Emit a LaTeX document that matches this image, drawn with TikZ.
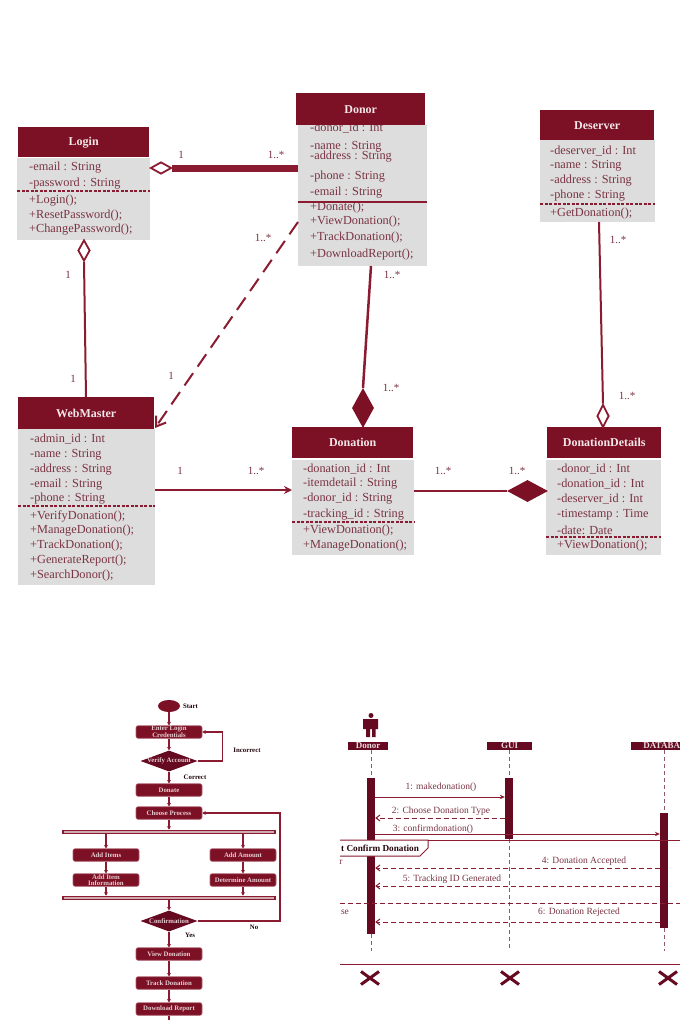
\documentclass[tikz,border=0pt]{standalone}
\usepackage{fontspec}
\setmainfont{Liberation Serif}
\usetikzlibrary{arrows.meta,shapes.geometric,shapes.misc}
\definecolor{wine}{HTML}{7C1024}
\definecolor{darkwine}{HTML}{650A20}
\definecolor{linewine}{HTML}{8A1B30}
\definecolor{bodygray}{HTML}{DDDDDD}
\definecolor{membertxt}{HTML}{7A3343}

\tikzset{
  classhead/.style={fill=wine, text=white!90!wine, anchor=north west, inner sep=0pt, font=\bfseries\fontsize{12}{12}\selectfont},
  classbody/.style={fill=bodygray, anchor=north west, inner sep=0pt},
  member/.style={anchor=west, inner sep=0pt, yshift=-1pt, text=membertxt, font=\fontsize{12.3}{12.3}\selectfont},
  mult/.style={inner sep=0pt, text=membertxt, font=\fontsize{11}{11}\selectfont},
  conn/.style={draw=linewine, line width=2pt},
  sepline/.style={draw=linewine, line width=1.5pt, dashed, dash pattern=on 3pt off 1.5pt},
  opendiam/.style={diamond, aspect=1, draw=linewine, fill=white, line width=1.8pt, inner sep=0pt},
  soliddiam/.style={diamond, fill=wine, inner sep=0pt},
  flowbox/.style={rectangle, rounded corners=2pt, fill=wine, draw=linewine!70, line width=0.6pt, text=white!80!wine, minimum width=66, minimum height=12.5, inner sep=0pt, align=center, font=\bfseries\fontsize{6.8}{6}\selectfont},
  flowdiam/.style={diamond, fill=darkwine, text=white!80!wine, inner sep=0pt, minimum width=57, minimum height=21, aspect=2.7, font=\bfseries\fontsize{6.8}{6}\selectfont},
  flowbar/.style={rectangle, fill=wine!35, draw=linewine, line width=1.2pt, minimum width=212, minimum height=3.5, inner sep=0pt},
  flowline/.style={draw=linewine, line width=1.3pt, -{Stealth[length=3.5pt,width=4pt]}},
  flowtxt/.style={inner sep=0pt, text=black!75!wine, font=\bfseries\fontsize{6.8}{6.8}\selectfont},
  lifehead/.style={fill=darkwine, text=white!85!wine, inner sep=0pt, minimum height=8, font=\bfseries\fontsize{9}{9}\selectfont},
  lifebar/.style={fill=darkwine, anchor=north, inner sep=0pt, minimum width=8},
  lifeline/.style={draw=black!30!linewine!70, line width=1pt, dashed, dash pattern=on 4pt off 3pt},
  msgtxt/.style={inner sep=0pt, yshift=-0.5pt, text=membertxt, font=\fontsize{9.5}{9.5}\selectfont},
  msg/.style={draw=linewine, line width=1pt, -{Stealth[length=5pt,width=4.5pt]}},
  reply/.style={draw=linewine, line width=1pt, dash pattern=on 5pt off 3pt, -{Straight Barb[length=4pt,width=6pt]}},
}

\begin{document}
\begin{tikzpicture}[x=1pt, y=-1pt]
  \useasboundingbox (0,0) rectangle (680,1020);

  % Login
  \node[classhead, minimum width=131, minimum height=30] (loginhead) at (18,127) {Login};
  \node[classbody, minimum width=133, minimum height=82] (loginbody) at (17,158) {};
  \foreach \txt/\ypos in {-email : String/167, -password : String/183, +Login();/200, +ResetPassword();/215, +ChangePassword();/229}
    \node[member] (login\ypos) at (29,\ypos) {\txt};
  \draw[sepline] (loginbody.west |- 0,191) -- (loginbody.east |- 0,191);

  % Donor
  \node[classbody, minimum width=129, minimum height=141] (donorbody) at (298,125) {};
  \foreach \txt/\ypos in {-donor\_id : Int/127, -name : String/146, -address : String/156, -phone : String/176, -email : String/192, +Donate();/207, +ViewDonation();/221, +TrackDonation();/237, +DownloadReport();/254}
    \node[member] (donor\ypos) at (310,\ypos) {\txt};
  \node[classhead, minimum width=129, minimum height=32] (donorhead) at (296,93) {Donor};
  \draw[linewine, line width=1.5pt] (donorbody.west |- 0,202) -- (donorbody.east |- 0,202);

  % Deserver
  \node[classhead, minimum width=114, minimum height=30] (deserverhead) at (540,110) {Deserver};
  \node[classbody, minimum width=115, minimum height=82] (deserverbody) at (540,140) {};
  \foreach \txt/\ypos in {-deserver\_id : Int/150, -name : String/165, -address : String/180, -phone : String/195, +GetDonation();/213}
    \node[member] (deserver\ypos) at (550,\ypos) {\txt};
  \draw[sepline] (deserverbody.west |- 0,204) -- (deserverbody.east |- 0,204);

  % WebMaster
  \node[classhead, minimum width=136, minimum height=32] (webhead) at (18,397) {WebMaster};
  \node[classbody, minimum width=137, minimum height=156] (webbody) at (18,429) {};
  \foreach \txt/\ypos in {-admin\_id : Int/438, -name : String/454, -address : String/469, -email : String/484, -phone : String/498, +VerifyDonation();/515, +ManageDonation();/530, +TrackDonation();/545, +GenerateReport();/560, +SearchDonor();/575}
    \node[member] (web\ypos) at (30,\ypos) {\txt};
  \draw[sepline] (webbody.west |- 0,506) -- (webbody.east |- 0,506);

  % Donation
  \node[classhead, minimum width=121, minimum height=31] (donationhead) at (292,427) {Donation};
  \node[classbody, minimum width=122, minimum height=95] (donationbody) at (292,460) {};
  \foreach \txt/\ypos in {-donation\_id : Int/468, -itemdetail : String/483, -donor\_id : String/498, -tracking\_id : String/514, +ViewDonation();/530, +ManageDonation();/545}
    \node[member] (donation\ypos) at (303,\ypos) {\txt};
  \draw[sepline] (donationbody.west |- 0,522) -- (donationbody.east |- 0,522);

  % DonationDetails
  \node[classhead, minimum width=114, minimum height=31] (detailshead) at (547,427) {DonationDetails};
  \node[classbody, minimum width=115, minimum height=95] (detailsbody) at (546,460) {};
  \foreach \txt/\ypos in {-donor\_id : Int/468, -donation\_id : Int/483, -deserver\_id : Int/498, -timestamp : Time/514, -date: Date/529, +ViewDonation();/545}
    \node[member] (details\ypos) at (557,\ypos) {\txt};
  \draw[sepline] (detailsbody.west |- 0,537) -- (detailsbody.east |- 0,537);

  % associations
  \node[opendiam, minimum width=21, minimum height=12, aspect=1.75] (loginleft) at (161,168) {};
  \draw[linewine, line width=7pt] (loginleft.east) -- (donorbody.west |- loginleft.east);
  \node[opendiam, minimum width=12, minimum height=21, aspect=0.57] (loginbottom) at (84,250.5) {};
  \coordinate (webtop) at (86,397);
  \draw[conn] (loginbottom.south) -- (webtop);
  \coordinate (donorslant) at (298,222);
  \coordinate (webslant) at (155,428);
  \draw[linewine, line width=2pt, dash pattern=on 15pt off 8pt, -{Straight Barb[length=9pt,width=12pt]}] (donorslant) -- (webslant);
  \node[soliddiam, minimum width=22, minimum height=40, aspect=0.55] (donationtop) at (363,408) {};
  \coordinate (donorfoot) at (371,266);
  \draw[conn, line width=2.5pt] (donorfoot) -- (donationtop.north);
  \node[opendiam, minimum width=12, minimum height=23, aspect=0.52] (detailstop) at (603,416) {};
  \coordinate (deserverfoot) at (599,222);
  \draw[conn] (deserverfoot) -- (detailstop.north);
  \coordinate (webright) at (155,490);
  \draw[conn, -{Stealth[length=8pt,width=8pt]}] (webright) -- (donationbody.west |- webright);
  \node[soliddiam, minimum width=41, minimum height=22, aspect=1.9] (detailsleft) at (527.5,491) {};
  \draw[conn] (donationbody.east |- detailsleft.west) -- (detailsleft.west);

  % multiplicities
  \foreach \txt/\xpos/\ypos [count=\i] in {1/181/155, 1..*/276/155, 1/68/275, 1/73/379, 1..*/263/238, 1/171/376, 1..*/392/275, 1..*/391/388, 1..*/618/240, 1..*/627/396, 1/180/471, 1..*/256/471, 1..*/443/471, 1..*/517/471}
    \node[mult] (mult\i) at (\xpos,\ypos) {\txt};

  % activity diagram
  \node[ellipse, fill=wine, minimum width=22, minimum height=12, inner sep=0pt] (start) at (169,706) {};
  \node[flowtxt] (starttxt) at (190.5,706) {Start};
  \node[flowbox] (enterlogin) at (169,732) {Enter Login\\Credentials};
  \node[flowdiam] (verify) at (169,761) {\makebox[0pt]{Verify Account}};
  \node[flowbox] (donate) at (169,790) {Donate};
  \node[flowbox] (choose) at (169,813) {Choose Process};
  \node[flowbar] (forkbar) at (169,832) {};
  \node[flowbox] (additems) at (106,855) {Add Items};
  \node[flowbox] (addinfo) at (106,880) {Add Item\\Information};
  \node[flowbox] (addamount) at (243,855) {Add Amount};
  \node[flowbox] (detamount) at (243,880) {Determine Amount};
  \node[flowbar] (joinbar) at (169,898) {};
  \node[flowdiam] (confirm) at (169,921) {\makebox[0pt]{Confirmation}};
  \node[flowbox] (viewdon) at (169,954) {View Donation};
  \node[flowbox] (trackdon) at (169,983) {Track Donation};
  \node[flowbox] (downrep) at (169,1009) {Download Report};
  \coordinate (pageend) at (169,1020);

  \foreach \a/\b in {start/enterlogin, enterlogin/verify, verify/donate, donate/choose, choose/forkbar, additems/addinfo, addamount/detamount, confirm/viewdon, viewdon/trackdon, trackdon/downrep}
    \draw[flowline] (\a) -- (\b);
  \draw[flowline] (joinbar) -- (confirm);
  \draw[flowline] (additems |- forkbar.south) -- (additems.north);
  \draw[flowline] (addamount |- forkbar.south) -- (addamount.north);
  \draw[flowline] (addinfo.south) -- (addinfo |- joinbar.north);
  \draw[flowline] (detamount.south) -- (detamount |- joinbar.north);
  \draw[flowline, -] (downrep) -- (pageend);
  \draw[flowline] (verify.east) -- +(25,0) |- (enterlogin.east);
  \draw[flowline] (confirm.east) -- (280,921) |- (choose.east);
  \node[flowtxt] (incorrect) at (247,750) {Incorrect};
  \node[flowtxt] (correct) at (195,777) {Correct};
  \node[flowtxt] (notxt) at (254,927) {No};
  \node[flowtxt] (yestxt) at (190,935) {Yes};

  % sequence diagram
  \fill[darkwine] (371,715.5) circle (2.5);
  \fill[darkwine] (363,719) -- (378,719) -- (378,729) -- (375.5,729) -- (375.5,737) -- (372,737) -- (372,729) -- (370,729) -- (370,737) -- (366,737) -- (366,729) -- (363,729) -- cycle;

  \node[lifehead, minimum width=40] (headdonor) at (368,746) {Donor};
  \node[lifehead, minimum width=45] (headgui) at (509.5,746) {GUI};
  \node[lifehead, minimum width=50, text width=48, align=right] (headdb) at (656,746) {DATABA};

  \node[lifebar, minimum height=156] (bardonor) at (371,778) {};
  \node[lifebar, minimum height=61] (bargui) at (509,778) {};
  \node[lifebar, minimum height=115] (bardb) at (664,813) {};

  \coordinate (enddonor) at (371,951);
  \coordinate (endgui) at (509,951);
  \coordinate (enddb) at (664,951);
  \draw[lifeline] (bardonor.north |- headdonor.south) -- (bardonor.north);
  \draw[lifeline] (bardonor.south) -- (enddonor);
  \draw[lifeline] (bargui.north |- headgui.south) -- (bargui.north);
  \draw[lifeline] (bargui.south) -- (endgui);
  \draw[lifeline] (bardb.north |- headdb.south) -- (bardb.north);
  \draw[lifeline] (bardb.south) -- (enddb);

  \draw[msg] (bardonor.east |- 0,797) -- (bargui.west |- 0,797);
  \draw[reply] (bargui.west |- 0,818) -- (bardonor.east |- 0,818);
  \draw[msg] (bardonor.east |- 0,834) -- (bardb.west |- 0,834);
  \draw[reply] (bardb.west |- 0,868) -- (bardonor.east |- 0,868);
  \draw[reply] (bardb.west |- 0,886) -- (bardonor.east |- 0,886);
  \draw[reply] (bardb.west |- 0,922) -- (bardonor.east |- 0,922);

  \node[msgtxt] (msgone) at (441,787) {1: makedonation()};
  \node[msgtxt] (msgtwo) at (441,811) {2: Choose Donation Type};
  \node[msgtxt] (msgthree) at (433,829) {3: confirmdonation()};
  \node[msgtxt] (msgfour) at (584,861) {4: Donation Accepted};
  \node[msgtxt] (msgfive) at (452,879) {5: Tracking ID Generated};
  \node[msgtxt] (msgsix) at (579,912) {6: Donation Rejected};

  % alt frame
  \draw[linewine, line width=1pt, fill=white] (340,840) -- (428,840) -- (428,848) -- (420,856) -- (340,856);
  \draw[linewine, line width=1pt] (428,840) -- (680,840);
  \node[msgtxt, anchor=west, font=\bfseries\fontsize{9.2}{9.2}\selectfont, text=black!70!wine] (framelabel) at (341,848) {t Confirm Donation};
  \node[msgtxt] (framer) at (341,862) {r};
  \node[msgtxt] (framese) at (345,912) {se};
  \draw[linewine, line width=1pt, dash pattern=on 5pt off 3pt] (340,903) -- (680,903);
  \draw[linewine, line width=1pt] (340,964) -- (680,964);

  % destroy marks
  \foreach \xpos [count=\i] in {370,510,668}
    \node[cross out, draw=darkwine, line width=3pt, minimum width=15, minimum height=10, inner sep=0pt] (kill\i) at (\xpos,978) {};
\end{tikzpicture}
\end{document}
